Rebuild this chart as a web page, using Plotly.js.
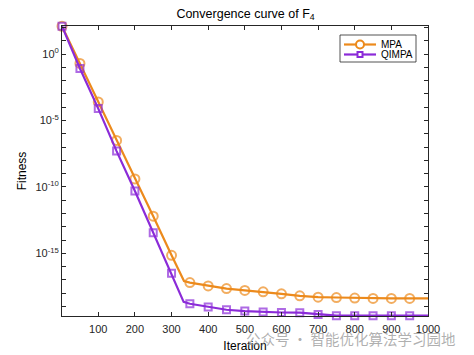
<!DOCTYPE html>
<html>
<head>
<meta charset="utf-8">
<script src="https://cdn.plot.ly/plotly-3.0.1.min.js"></script>
<style>html,body{margin:0;padding:0;background:#fff;}#chart{width:474px;height:355px;}</style>
</head>
<body>
<div id="chart"></div>
<script>
// Iterations (markers every 50, plus the corner vertex of each curve)
const mpaIter = [1, 50, 100, 150, 200, 250, 300, 334, 350, 400, 450, 500, 550, 600, 650, 700, 750, 800, 850, 900, 950, 1000];
const mpaFit  = [1.26e2, 2.0e-1, 2.5e-4, 3.2e-7, 4.0e-10, 6.3e-13, 7.1e-16, 8.3e-18, 6.3e-18, 3.5e-18, 2.2e-18, 1.6e-18, 1.26e-18, 8.9e-19, 6.3e-19, 5.0e-19, 4.7e-19, 4.3e-19, 4.0e-19, 4.0e-19, 4.0e-19, 4.0e-19];
const mpaMark = [1, 1, 1, 1, 1, 1, 1, 0, 1, 1, 1, 1, 1, 1, 1, 1, 1, 1, 1, 1, 1, 0];

const qimpaIter = [1, 50, 100, 150, 200, 250, 300, 333, 350, 400, 450, 500, 550, 600, 650, 700, 750, 800, 850, 900, 950, 1000];
const qimpaFit  = [1.26e2, 8.3e-2, 7.9e-5, 5.0e-8, 5.0e-11, 3.5e-14, 3.2e-17, 2.2e-19, 1.6e-19, 8.9e-20, 5.6e-20, 4.5e-20, 3.8e-20, 3.5e-20, 3.4e-20, 2.5e-20, 2.0e-20, 2.0e-20, 2.0e-20, 2.0e-20, 2.0e-20, 2.0e-20];
const qimpaMark = [1, 1, 1, 1, 1, 1, 1, 0, 1, 1, 1, 1, 1, 1, 1, 1, 1, 1, 1, 1, 1, 0];

const seriesNames = ['MPA', 'QIMPA'];
const xTicks = [100, 200, 300, 400, 500, 600, 700, 800, 900, 1000];
const yDecades = [-19,-18,-17,-16,-15,-14,-13,-12,-11,-10,-9,-8,-7,-6,-5,-4,-3,-2,-1,0,1,2];
const yLabeled = [-15, -10, -5, 0];

const orange = '#EC8A1C';
const purple = '#8B2BD8';
const font = 'Liberation Sans, Arial, sans-serif';

const traces = [
  {
    x: mpaIter, y: mpaFit, name: seriesNames[0], type: 'scatter', mode: 'lines+markers',
    line: {color: orange, width: 2.2},
    marker: {symbol: 'circle-open', color: orange, size: mpaMark.map(m => m ? 9 : 0), line: {width: 2, color: orange}},
    cliponaxis: false
  },
  {
    x: qimpaIter, y: qimpaFit, name: seriesNames[1], type: 'scatter', mode: 'lines+markers',
    line: {color: purple, width: 2.2},
    marker: {symbol: 'square-open', color: purple, size: qimpaMark.map(m => m ? 7 : 0), line: {width: 2, color: purple}},
    cliponaxis: false
  }
];

const axisCommon = {
  showline: true, linecolor: '#262626', linewidth: 1, mirror: 'ticks',
  ticks: 'inside', ticklen: 4, tickcolor: '#262626', tickwidth: 1,
  showgrid: false, zeroline: false,
  tickfont: {family: font, size: 11, color: '#262626'}
};

// compact legend box (paper coordinates of the plot area: 366 x 290 px)
const W = 366, H = 290;
const px = v => (v - 62) / W;
const py = v => (316 - v) / H;
const legShapes = [
  {type: 'rect', xref: 'paper', yref: 'paper', x0: px(340), x1: px(416), y0: py(62), y1: py(35),
   line: {color: '#262626', width: 0.8}, fillcolor: '#ffffff', layer: 'above'},
  {type: 'line', xref: 'paper', yref: 'paper', x0: px(344), x1: px(376), y0: py(44.5), y1: py(44.5),
   line: {color: orange, width: 2.2}, layer: 'above'},
  {type: 'circle', xref: 'paper', yref: 'paper', x0: px(356), x1: px(364), y0: py(48.5), y1: py(40.5),
   line: {color: orange, width: 2}, fillcolor: '#ffffff', layer: 'above'},
  {type: 'line', xref: 'paper', yref: 'paper', x0: px(344), x1: px(376), y0: py(54.5), y1: py(54.5),
   line: {color: purple, width: 2.2}, layer: 'above'},
  {type: 'rect', xref: 'paper', yref: 'paper', x0: px(357.5), x1: px(362.5), y0: py(57), y1: py(52),
   line: {color: purple, width: 2}, fillcolor: '#ffffff', layer: 'above'}
];

const layout = {
  width: 474, height: 355,
  margin: {l: 62, r: 46, t: 26, b: 39},
  paper_bgcolor: '#ffffff', plot_bgcolor: '#ffffff',
  font: {family: font, color: '#262626'},
  showlegend: false,
  title: {text: 'Convergence curve of F<sub>4</sub>', font: {family: font, size: 12.5, color: '#000'}, x: 0.518, xanchor: 'center', y: 0.975, yanchor: 'top'},
  xaxis: Object.assign({}, axisCommon, {
    range: [1, 1000], tickvals: xTicks, ticktext: xTicks.map(String), ticklabelstandoff: 3,
    title: {text: 'Iteration', font: {family: font, size: 12, color: '#000'}, standoff: 7}
  }),
  yaxis: Object.assign({}, axisCommon, {
    type: 'log', range: [-19.72, 2.12],
    tickvals: yDecades.map(k => Math.pow(10, k)),
    ticktext: yDecades.map(k => yLabeled.includes(k) ? '10<sup>' + k + '</sup>' : ''),
    title: {text: 'Fitness', font: {family: font, size: 12, color: '#000'}, standoff: 6}
  }),
  shapes: legShapes,
  annotations: [
    {xref: 'paper', yref: 'paper', x: px(379), y: py(44.5), xanchor: 'left', yanchor: 'middle',
     text: seriesNames[0], showarrow: false, font: {family: font, size: 10, color: '#000'}},
    {xref: 'paper', yref: 'paper', x: px(379), y: py(55), xanchor: 'left', yanchor: 'middle',
     text: seriesNames[1], showarrow: false, font: {family: font, size: 10, color: '#000'}},
    {xref: 'paper', yref: 'paper', x: px(458), y: py(338), xanchor: 'right', yanchor: 'middle',
     text: '公众号 · 智能优化算法学习园地', showarrow: false,
     font: {family: 'Noto Sans CJK SC, sans-serif', size: 14.5, color: 'rgba(150,150,150,0.75)'}}
  ]
};

Plotly.newPlot('chart', traces, layout, {displayModeBar: false, staticPlot: true});
</script>
</body>
</html>
